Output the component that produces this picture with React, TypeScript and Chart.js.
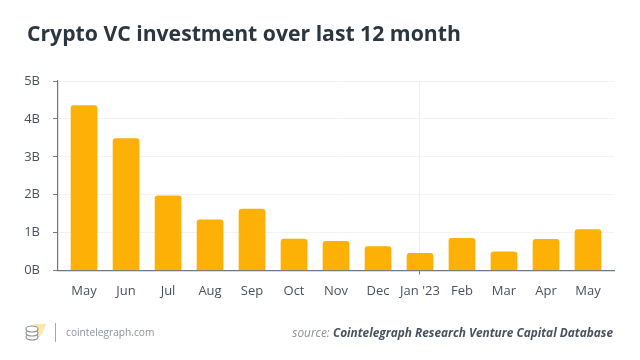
import React, { useEffect, useRef } from "react";
import { Chart, registerables } from "chart.js";

Chart.register(...registerables);

const categories = ["May", "Jun", "Jul", "Aug", "Sep", "Oct", "Nov", "Dec", "Jan '23", "Feb", "Mar", "Apr", "May"];
const investment = [4.35, 3.48, 1.97, 1.34, 1.62, 0.83, 0.77, 0.63, 0.45, 0.85, 0.49, 0.82, 1.08];
const titleText = "Crypto VC investment over last 12 month";
const siteText = "cointelegraph.com";
const sourcePrefix = "source: ";
const sourceText = "Cointelegraph Research Venture Capital Database";
const markedCategory = "Jan '23";

const FONT = '"Open Sans", sans-serif';

export default function App() {
  const ref = useRef<HTMLCanvasElement | null>(null);

  useEffect(() => {
    document.body.style.margin = "0";
    const chart = new Chart(ref.current as HTMLCanvasElement, {
      type: "bar",
      data: {
        datasets: [
          {
            data: investment.map((y, x) => ({ x, y })),
            backgroundColor: "#fdb005",
            barThickness: 26,
            borderRadius: { topLeft: 3, topRight: 3, bottomLeft: 0, bottomRight: 0 },
            borderSkipped: false,
          },
        ],
      },
      options: {
        responsive: false,
        animation: false,
        layout: { padding: { top: 81, right: 26, left: 0, bottom: 0 } },
        plugins: { legend: { display: false }, tooltip: { enabled: false }, title: { display: false } },
        scales: {
          x: {
            type: "linear",
            offset: false,
            min: -0.62,
            max: 12.62,
            afterBuildTicks: (s: any) => {
              s.ticks = categories.map((_, value) => ({ value }));
            },
            afterFit: (s: any) => {
              s.height = 89.5;
              s.paddingLeft = 0;
              s.paddingRight = 0;
            },
            border: { color: "#6d7781", width: 1.2 },
            grid: {
              offset: false,
              color: (c: any) => (categories[c.tick?.value] === markedCategory ? "#efefef" : "rgba(0,0,0,0)"),
              tickColor: (c: any) => (categories[c.tick?.value] === markedCategory ? "#6d7781" : "rgba(0,0,0,0)"),
              tickLength: 4,
              lineWidth: 1,
            },
            ticks: {
              autoSkip: false,
              maxRotation: 0,
              padding: 9,
              color: "#47525d",
              font: { family: FONT, size: 13 },
              callback: (v: any) => categories[v],
            },
          },
          y: {
            min: 0,
            max: 5,
            afterFit: (s: any) => {
              s.width = 58;
            },
            border: { color: "#6d7781", width: 1.2 },
            grid: { color: "#f3f3f3", tickColor: "#6d7781", tickLength: 5, lineWidth: 1 },
            ticks: {
              stepSize: 1,
              padding: 13,
              color: "#47525d",
              font: { family: FONT, size: 13 },
              callback: (v: any) => `${v}B`,
            },
          },
        },
      },
    } as any);
    return () => chart.destroy();
  }, []);

  return (
    <div style={{ position: "relative", width: 640, height: 360, background: "#fff", overflow: "hidden" }}>
      <canvas ref={ref} width={640} height={360} style={{ display: "block", position: "absolute", left: 0, top: 0 }} />
      <div
        style={{
          position: "absolute",
          left: 27,
          top: 17,
          font: `700 21.2px/32px ${FONT}`,
          color: "#2b3640",
          whiteSpace: "nowrap",
        }}
      >
        {titleText}
      </div>
      <svg width="24" height="22" style={{ position: "absolute", left: 24, top: 322 }}>
        <path d="M10 2 L22 2 L18 12 L12 18 L8 18 Z" fill="#fbe9a8" />
        <g fill="#fff" stroke="#8a9199" strokeWidth="1.2">
          <ellipse cx="8" cy="15" rx="6" ry="3" />
          <ellipse cx="8" cy="11" rx="6" ry="3" />
          <ellipse cx="8" cy="7" rx="6" ry="3" />
        </g>
      </svg>
      <div style={{ position: "absolute", left: 55, top: 323, width: 1, height: 19, background: "#a4a9ae" }} />
      <div
        style={{
          position: "absolute",
          left: 66,
          top: 322,
          font: `400 10.2px/20px ${FONT}`,
          color: "#8b929a",
          whiteSpace: "nowrap",
        }}
      >
        {siteText}
      </div>
      <div
        style={{
          position: "absolute",
          right: 27,
          top: 322,
          font: `italic 400 11.85px/20px ${FONT}`,
          color: "#8b9096",
          whiteSpace: "pre",
        }}
      >
        {sourcePrefix}
        <span style={{ fontWeight: 700, color: "#47525d" }}>{sourceText}</span>
      </div>
    </div>
  );
}
